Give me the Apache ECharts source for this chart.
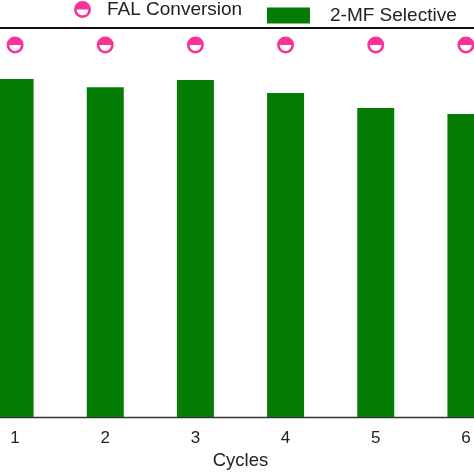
<!DOCTYPE html>
<html>
<head>
<meta charset="utf-8">
<script src="https://cdn.jsdelivr.net/npm/echarts@6/dist/echarts.min.js"></script>
<style>
  html, body { margin: 0; padding: 0; background: #fff; }
  #chart { width: 474px; height: 474px; }
</style>
</head>
<body>
<div id="chart"></div>
<script>
const cycles = ['1', '2', '3', '4', '5', '6']
const falConversion = [100, 100, 100, 100, 100, 100]
const mfSelective = [90.9, 88.7, 90.6, 87.1, 83.1, 81.5]

// half filled circle: outer disk with the lower inner half cut out
const halfCircle = 'path://M-10 0A10 10 0 1 1 10 0A10 10 0 1 1 -10 0ZM-6.9 0A6.9 6.9 0 0 0 6.9 0L-6.9 0Z'
const pink = '#f5007f'
const green = '#057d05'
const font = '"Liberation Sans", Arial, sans-serif'

const chart = echarts.init(document.getElementById('chart'))
chart.setOption({
  backgroundColor: '#fff',
  animation: false,
  legend: [
    {
      data: [{ name: 'FAL Conversion', icon: halfCircle }],
      left: 74,
      top: 0,
      padding: 0,
      itemWidth: 17,
      itemHeight: 17,
      textStyle: { fontFamily: font, fontSize: 19, color: '#222', padding: [0, 0, 0, 11] }
    },
    {
      data: [{ name: '2-MF Selective', icon: 'rect' }],
      left: 267,
      top: 6,
      padding: 0,
      itemWidth: 43,
      itemHeight: 16,
      textStyle: { fontFamily: font, fontSize: 19, color: '#222', padding: [0, 0, 0, 15] }
    }
  ],
  grid: {
    top: 28,
    bottom: 57,
    left: -30,
    right: -37,
    outerBoundsMode: 'none'
  },
  xAxis: [
    {
      type: 'category',
      data: cycles,
      name: 'Cycles',
      nameLocation: 'middle',
      nameGap: 34,
      nameTextStyle: { fontFamily: font, fontSize: 18.5, color: '#222' },
      axisLine: { lineStyle: { color: '#333', width: 1.3 } },
      axisTick: { alignWithLabel: true, length: 7, lineStyle: { color: '#222', width: 1.5 } },
      axisLabel: { margin: 13, fontFamily: font, fontSize: 17, color: '#222' }
    },
    {
      type: 'category',
      data: cycles,
      position: 'top',
      axisLine: { lineStyle: { color: '#111', width: 2 } },
      axisTick: { show: false },
      axisLabel: { show: false }
    }
  ],
  yAxis: {
    type: 'value',
    min: 0,
    max: 104.6,
    show: false,
    splitLine: { show: false }
  },
  series: [
    {
      name: '2-MF Selective',
      type: 'bar',
      data: mfSelective,
      barWidth: 37,
      itemStyle: { color: green }
    },
    {
      name: 'FAL Conversion',
      type: 'scatter',
      data: falConversion,
      symbol: halfCircle,
      symbolSize: 17,
      itemStyle: { color: pink },
      z: 5
    }
  ]
})
</script>
</body>
</html>
